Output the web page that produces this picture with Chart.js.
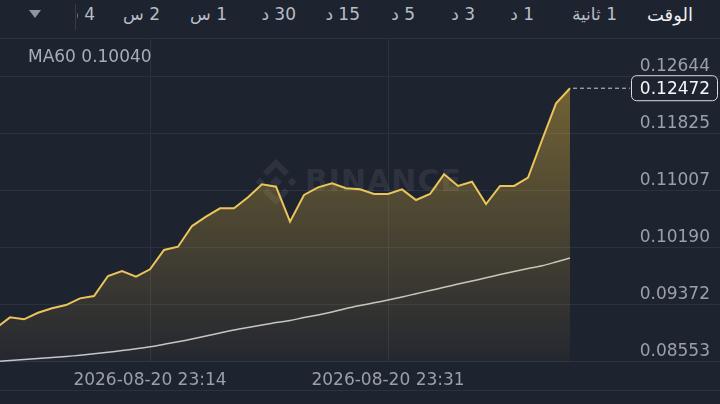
<!DOCTYPE html>
<html>
<head>
<meta charset="utf-8">
<script src="https://cdn.jsdelivr.net/npm/chart.js@4.4.1/dist/chart.umd.min.js"></script>
<style>
  body { margin: 0; background: #1e2330; width: 720px; height: 404px; overflow: hidden; position: relative; font-family: "DejaVu Sans", "Noto Sans", sans-serif; }
  #bar { position: absolute; left: 0; top: 0; width: 720px; height: 38px; border-bottom: 1px solid #2b3140; }
  #tabs { position: absolute; left: 77px; top: 0; width: 643px; height: 38px; overflow: hidden; }
  .tab { position: absolute; top: 0; line-height: 29px; unicode-bidi: isolate; white-space: nowrap; color: #b7bdc6; font-size: 17px; }
  .tab.on { color: #eef0f3; font-size: 18px; }
  #sep { position: absolute; left: 75px; top: 4px; width: 1px; height: 26px; background: #343a46; }
  #arrow { position: absolute; left: 29px; top: 10px; width: 0; height: 0; border-left: 6px solid transparent; border-right: 6px solid transparent; border-top: 8px solid #8f96a3; }
  #ma { position: absolute; left: 28px; top: 46px; color: #a7adb8; font-size: 17px; z-index: 2; }
  #wrap { position: absolute; left: 0; top: 39px; width: 720px; height: 365px; }
</style>
</head>
<body>
<div id="bar">
  <div id="arrow"></div>
  <div id="sep"></div>
  <div id="tabs"></div>
</div>
<div id="ma"></div>
<div id="wrap"><canvas id="priceChart" width="720" height="365"></canvas></div>
<script>
// interval tabs, right to left
var tabNames = ["الوقت", "1 ثانية", "1 د", "3 د", "5 د", "15 د", "30 د", "1 س", "2 س", "4 س"];
var tabRight = [27, 103, 186, 245, 305, 360, 424, 493, 560, 625];

var times = ["23:03", "23:04", "23:05", "23:06", "23:07", "23:08", "23:09", "23:10", "23:11", "23:12",
  "23:13", "23:14", "23:15", "23:16", "23:17", "23:18", "23:19", "23:20", "23:21", "23:22",
  "23:23", "23:24", "23:25", "23:26", "23:27", "23:28", "23:29", "23:30", "23:31", "23:32",
  "23:33", "23:34", "23:35", "23:36", "23:37", "23:38", "23:39", "23:40", "23:41", "23:42",
  "23:43", "23:44"];
var prices = [0.09036, 0.09189, 0.09161, 0.09255, 0.09318, 0.09365, 0.09461, 0.09494, 0.09781, 0.09853,
  0.09771, 0.09877, 0.10154, 0.10201, 0.10497, 0.10631, 0.10751, 0.10751, 0.10909, 0.11095,
  0.11061, 0.10559, 0.10942, 0.11052, 0.11109, 0.11038, 0.11023, 0.10956, 0.10956, 0.11023,
  0.10870, 0.10956, 0.11238, 0.11071, 0.11132, 0.10813, 0.11071, 0.11071, 0.11190, 0.11730,
  0.12256, 0.12472];
var ma60 = [0.08556, 0.08570, 0.08585, 0.08599, 0.08613, 0.08628, 0.08646, 0.08666, 0.08688, 0.08713,
  0.08739, 0.08768, 0.08802, 0.08838, 0.08878, 0.08921, 0.08964, 0.09007, 0.09043, 0.09079,
  0.09115, 0.09143, 0.09186, 0.09222, 0.09265, 0.09315, 0.09358, 0.09397, 0.09437, 0.09480,
  0.09527, 0.09573, 0.09619, 0.09666, 0.09709, 0.09755, 0.09802, 0.09845, 0.09888, 0.09927,
  0.09982, 0.10040];
var priceTicks = [0.08553, 0.09372, 0.10190, 0.11007, 0.11825, 0.12644];
var dateTicks = ["23:14", "23:31"];
var day = "2026-08-20";

var tabsEl = document.getElementById("tabs");
tabNames.forEach(function (name, i) {
  var s = document.createElement("span");
  s.className = "tab" + (i === 0 ? " on" : "");
  s.setAttribute("dir", "rtl");
  s.textContent = name;
  s.style.right = tabRight[i] + "px";
  tabsEl.appendChild(s);
});
document.getElementById("ma").textContent = "MA60 " + ma60[ma60.length - 1].toFixed(5);

function toMin(t) {
  var p = t.split(":");
  return (parseInt(p[0], 10) - 23) * 60 + parseInt(p[1], 10);
}
function pad(n) { return (n < 10 ? "0" : "") + n; }

var pricePts = times.map(function (t, i) { return { x: toMin(t), y: prices[i] }; });
var maPts = times.map(function (t, i) { return { x: toMin(t), y: ma60[i] }; });

var extras = {
  id: "extras",
  beforeDatasetsDraw: function (chart) {
    var c = chart.ctx;
    c.save();
    // watermark
    c.fillStyle = "rgba(255,255,255,0.07)";
    c.strokeStyle = "rgba(255,255,255,0.07)";
    var cx = 276, cy = 143;
    function dia(x, y, r) {
      c.beginPath();
      c.moveTo(x, y - r); c.lineTo(x + r, y); c.lineTo(x, y + r); c.lineTo(x - r, y); c.closePath();
      c.fill();
    }
    dia(cx, cy, 6);
    dia(cx - 16, cy, 4.5);
    dia(cx + 16, cy, 4.5);
    c.lineWidth = 6;
    c.beginPath(); c.moveTo(cx - 11, cy - 8); c.lineTo(cx, cy - 19); c.lineTo(cx + 11, cy - 8); c.stroke();
    c.beginPath(); c.moveTo(cx - 11, cy + 8); c.lineTo(cx, cy + 19); c.lineTo(cx + 11, cy + 8); c.stroke();
    c.font = "bold 30px 'DejaVu Sans', sans-serif";
    c.letterSpacing = "1px";
    c.textBaseline = "middle";
    c.fillText("BINANCE", 305, cy + 1);
    c.restore();
  },
  afterDatasetsDraw: function (chart) {
    var c = chart.ctx;
    var meta = chart.getDatasetMeta(0);
    var last = meta.data[meta.data.length - 1];
    var y = last.y;
    c.save();
    c.strokeStyle = "#c9ccd2";
    c.lineWidth = 1;
    c.setLineDash([4, 3]);
    c.beginPath(); c.moveTo(last.x + 3, y); c.lineTo(630, y); c.stroke();
    c.setLineDash([]);
    c.fillStyle = "#1e2330";
    c.strokeStyle = "#d8dbe0";
    c.beginPath();
    c.roundRect(631.5, y - 12.5, 86, 25, 5);
    c.fill(); c.stroke();
    c.fillStyle = "#f5f6f8";
    c.font = "17px 'DejaVu Sans', sans-serif";
    c.textAlign = "center";
    c.textBaseline = "middle";
    c.fillText(prices[prices.length - 1].toFixed(5), 675, y + 1);
    // separator below date axis
    c.strokeStyle = "#2b3140";
    c.beginPath(); c.moveTo(0, chart.chartArea.bottom + 28.5); c.lineTo(720, chart.chartArea.bottom + 28.5); c.stroke();
    c.restore();
  }
};

var ctx = document.getElementById("priceChart").getContext("2d");
var priceChart = new Chart(ctx, {
  type: "line",
  data: {
    datasets: [
      {
        label: "Price",
        data: pricePts,
        borderColor: "#ebc55a",
        borderWidth: 2,
        pointRadius: 0,
        tension: 0,
        fill: "start",
        backgroundColor: function (context) {
          var area = context.chart.chartArea;
          if (!area) return "rgba(240,190,60,0.2)";
          var g = context.chart.ctx.createLinearGradient(0, area.top + 40, 0, area.bottom);
          g.addColorStop(0, "rgba(235,190,60,0.42)");
          g.addColorStop(1, "rgba(235,190,60,0.03)");
          return g;
        },
      },
      {
        label: "MA60",
        data: maPts,
        borderColor: "#c4c6cc",
        borderWidth: 1.5,
        pointRadius: 0,
        tension: 0.3,
        fill: false,
      },
    ],
  },
  plugins: [extras],
  options: {
    responsive: false,
    animation: false,
    layout: { padding: { left: 0, right: 0, top: 0, bottom: 15 } },
    plugins: { legend: { display: false }, tooltip: { enabled: false } },
    scales: {
      x: {
        type: "linear",
        min: 3.286,
        max: 54.71,
        afterBuildTicks: function (axis) {
          axis.ticks = dateTicks.map(function (t) { return { value: toMin(t) }; });
        },
        afterFit: function (axis) {
          axis.height = 27;
          axis.paddingLeft = 0;
          axis.paddingRight = 0;
        },
        grid: { color: "#2b3140", drawTicks: false },
        border: { display: false },
        ticks: {
          padding: 8,
          color: "#9aa0aa",
          font: { size: 17, family: "'DejaVu Sans', sans-serif" },
          maxRotation: 0,
          callback: function (v) { return day + " " + pad(Math.floor(v / 60) + 23) + ":" + pad(v % 60); },
        },
      },
      y: {
        position: "right",
        min: 0.08549,
        max: 0.13177,
        afterBuildTicks: function (axis) {
          axis.ticks = priceTicks.map(function (v) { return { value: v }; });
        },
        afterFit: function (axis) {
          axis.width = 0;
          axis.paddingTop = 0;
          axis.paddingBottom = 0;
        },
        grid: { color: "#2b3140", drawTicks: false },
        border: { display: false },
        ticks: {
          mirror: true,
          padding: -10,
          labelOffset: -10,
          color: "#9aa0aa",
          font: { size: 17, family: "'DejaVu Sans', sans-serif" },
          callback: function (v) { return v.toFixed(5); },
        },
      },
    },
  },
});
</script>
</body>
</html>
